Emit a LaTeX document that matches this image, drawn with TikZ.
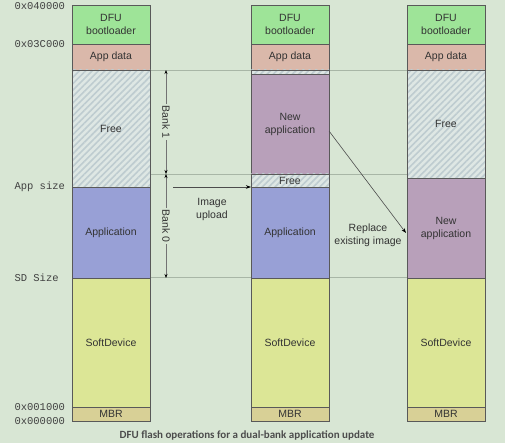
\documentclass[tikz,border=0pt]{standalone}
\usepackage{fontspec}
\setmainfont{Liberation Sans}
\newfontfamily\addrfont{Liberation Mono}
\newfontfamily\capfont{Carlito}
\usetikzlibrary{arrows.meta,patterns.meta}

\definecolor{bgc}{RGB}{216,230,212}
\definecolor{dfuc}{RGB}{158,228,152}
\definecolor{datac}{RGB}{218,184,170}
\definecolor{freec}{RGB}{222,231,228}
\definecolor{stripec}{RGB}{190,204,208}
\definecolor{appc}{RGB}{152,160,214}
\definecolor{newc}{RGB}{184,160,186}
\definecolor{sdc}{RGB}{220,230,150}
\definecolor{mbrc}{RGB}{216,208,150}
\definecolor{guidec}{RGB}{168,182,166}

\begin{document}
\begin{tikzpicture}[x=1pt, y=-1pt,
  blk/.style={draw=black!65, line width=0.8pt, inner sep=0pt, outer sep=0pt,
    minimum width=78pt, anchor=north west, align=center, text=black!80,
    font=\fontsize{10.5}{13}\selectfont},
  hatched/.style={blk, preaction={fill=freec},
    pattern={Lines[angle=45, distance=4.5pt, line width=1.6pt]}, pattern color=stripec},
  addr/.style={anchor=west, font=\addrfont\fontsize{10.5}{12}\selectfont, text=black!75},
  guide/.style={draw=guidec, line width=0.8pt},
  bank/.style={draw=black!55, line width=0.6pt, {Stealth[length=4pt,width=3pt,black]}-{Stealth[length=4pt,width=3pt,black]}},
  banklbl/.style={fill=bgc, inner sep=1.5pt, rotate=-90, text=black!80, font=\fontsize{10.5}{12}\selectfont},
  flow/.style={draw=black!70, line width=0.6pt, -{Stealth[length=5pt,width=3.5pt,black]}},
  note/.style={align=center, text=black!80, font=\fontsize{10.5}{13}\selectfont}]

% background
\fill[bgc] (0,0) rectangle (505,443);
\useasboundingbox (0,0) rectangle (505,443);

% guide lines
\draw[guide] (150,70) -- (407,70);
\draw[guide] (150,174) -- (407,174);
\draw[guide] (150,277.5) -- (407,277.5);

% column 1: current image
\node[blk, fill=dfuc, minimum height=39pt] (dfuA) at (72,5) {DFU\\bootloader};
\node[blk, fill=datac, minimum height=26pt] (dataA) at (72,44) {App data};
\node[hatched, minimum height=117pt] (freeA) at (72,70) {Free};
\node[blk, fill=appc, minimum height=91pt] (appA) at (72,187) {Application};
\node[blk, fill=sdc, minimum height=129pt] (sdA) at (72,278) {SoftDevice};
\node[blk, fill=mbrc, minimum height=14pt] (mbrA) at (72,407) {MBR};

% column 2: after upload
\node[blk, fill=dfuc, minimum height=39pt] (dfuB) at (251,5) {DFU\\bootloader};
\node[blk, fill=datac, minimum height=26pt] (dataB) at (251,44) {App data};
\node[hatched, minimum height=4pt] (gapB) at (251,70) {};
\node[blk, fill=newc, minimum height=100pt] (newB) at (251,74) {New\\application};
\node[hatched, minimum height=13pt] (freeB) at (251,174) {Free};
\node[blk, fill=appc, minimum height=91pt] (appB) at (251,187) {Application};
\node[blk, fill=sdc, minimum height=129pt] (sdB) at (251,278) {SoftDevice};
\node[blk, fill=mbrc, minimum height=14pt] (mbrB) at (251,407) {MBR};

% column 3: after replace
\node[blk, fill=dfuc, minimum height=39pt] (dfuC) at (407,5) {DFU\\bootloader};
\node[blk, fill=datac, minimum height=26pt] (dataC) at (407,44) {App data};
\node[hatched, minimum height=108pt] (freeC) at (407,70) {Free};
\node[blk, fill=newc, minimum height=100pt] (newC) at (407,178) {New\\application};
\node[blk, fill=sdc, minimum height=129pt] (sdC) at (407,278) {SoftDevice};
\node[blk, fill=mbrc, minimum height=14pt] (mbrC) at (407,407) {MBR};

% addresses
\node[addr] (a40) at (11,6) {0x040000};
\node[addr] (a3c) at (11,44) {0x03C000};
\node[addr] (asz) at (11,187) {App size};
\node[addr] (ssz) at (11,278) {SD Size};
\node[addr] (a01) at (11,407) {0x001000};
\node[addr] (a00) at (11,421) {0x000000};

% banks
\coordinate (b1top) at (166,70);
\coordinate (b1bot) at (166,174);
\coordinate (b0bot) at (166,278);
\draw[bank] (b1top) -- node[banklbl] (bank1) {Bank 1} (b1bot);
\draw[bank] (b1bot) -- node[banklbl] (bank0) {Bank 0} (b0bot);

% operations
\coordinate (upS) at (173,187);
\draw[flow] (upS) -- (appB.north west);
\node[note] (upL) at (212,209) {Image\\upload};
\draw[flow] ([yshift=-7pt]newB.east) -- ([xshift=-1pt,yshift=-5pt]newC.west);
\node[note] (repL) at (368,235) {Replace\\existing image};

% caption
\node[text=black!70, font=\capfont\bfseries\fontsize{11}{13}\selectfont] (cap) at (247,435)
  {DFU flash operations for a dual-bank application update};

\end{tikzpicture}
\end{document}
